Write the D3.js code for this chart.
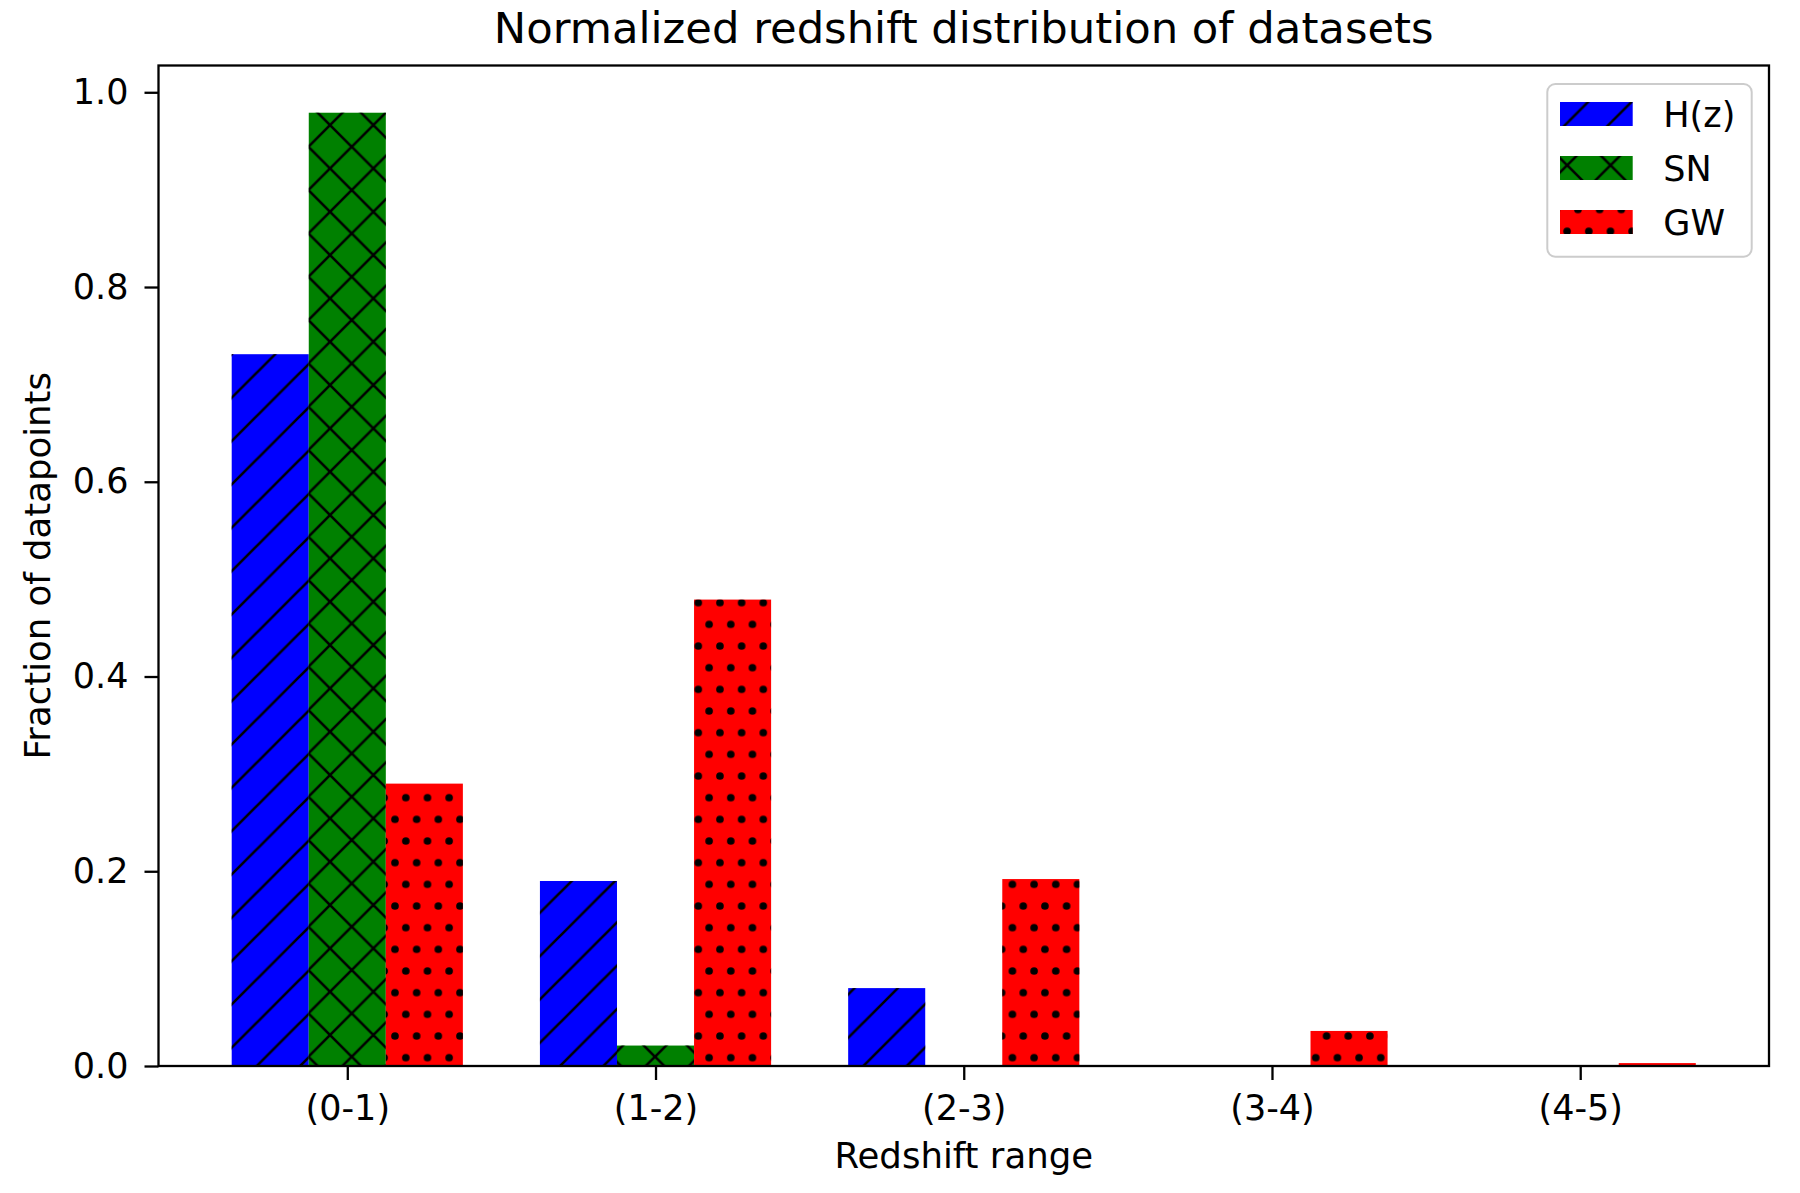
<!DOCTYPE html>
<html>
<head>
<meta charset="utf-8">
<script src="https://cdn.jsdelivr.net/npm/d3@7"></script>
<style>
    body { margin: 0; background: #fff; }
    text { font-family: "DejaVu Sans", sans-serif; fill: #000; }
</style>
</head>
<body>
<div id="chart"></div>
<script>
// data
var categories = ["(0-1)", "(1-2)", "(2-3)", "(3-4)", "(4-5)"];
var seriesNames = ["H(z)", "SN", "GW"];
var hzValues = [0.731, 0.190, 0.080, 0, 0];
var snValues = [0.979, 0.021, 0, 0, 0];
var gwValues = [0.290, 0.479, 0.192, 0.036, 0.003];
var yTicks = [0.0, 0.2, 0.4, 0.6, 0.8, 1.0];

var series = [
    {name: seriesNames[0], values: hzValues, color: "#0000ff", hatch: "hatch-ne", offset: -1},
    {name: seriesNames[1], values: snValues, color: "#008000", hatch: "hatch-x", offset: 0},
    {name: seriesNames[2], values: gwValues, color: "#ff0000", hatch: "hatch-dot", offset: 1}
];

var cwidth = 1800, cheight = 1193;
var margin = {top: 65.5, right: 31, bottom: 127, left: 158.5}
    , width = cwidth - margin.left - margin.right
    , height = cheight - margin.top - margin.bottom;
var barWidth = 0.25;
var P = 43.33; // hatch period
var hatchWidth = 2.6;

var xScale = d3.scaleLinear()
    .domain([-0.6125, categories.length - 1 + 0.6125])
    .range([0, width]);

var yScale = d3.scaleLinear()
    .domain([0, 1.0275])
    .range([height, 0]);

var svg = d3.select("#chart").append("svg")
    .attr("width", cwidth)
    .attr("height", cheight)
    .append("g")
    .attr("transform", "translate(" + margin.left + "," + margin.top + ")");

// hatch patterns, anchored like matplotlib (fixed to the page, not to the bar)
var defs = svg.append("defs");

var ne = defs.append("pattern").attr("id", "hatch-ne")
    .attr("patternUnits", "userSpaceOnUse")
    .attr("x", 98.2).attr("y", 1000.5)
    .attr("width", P).attr("height", P);
ne.append("path")
    .attr("d", "M-5,5L5,-5M0," + P + "L" + P + ",0M" + (P - 5) + "," + (P + 5) + "L" + (P + 5) + "," + (P - 5))
    .attr("stroke", "#000").attr("stroke-width", hatchWidth);

var cross = defs.append("pattern").attr("id", "hatch-x")
    .attr("patternUnits", "userSpaceOnUse")
    .attr("x", 193.2).attr("y", 991.2)
    .attr("width", P).attr("height", P);
cross.append("path")
    .attr("d", "M-5,5L5,-5M0," + P + "L" + P + ",0M" + (P - 5) + "," + (P + 5) + "L" + (P + 5) + "," + (P - 5) +
        "M0,0L" + P + "," + P + "M" + (P - 5) + ",-5L" + (P + 5) + ",5M-5," + (P - 5) + "L5," + (P + 5))
    .attr("stroke", "#000").attr("stroke-width", hatchWidth);

var dots = defs.append("pattern").attr("id", "hatch-dot")
    .attr("patternUnits", "userSpaceOnUse")
    .attr("x", 539.8).attr("y", 537.2)
    .attr("width", P / 2).attr("height", P);
[[0, 0], [P / 2, 0], [0, P], [P / 2, P], [P / 4, P / 2]].forEach(function(c) {
    dots.append("circle").attr("cx", c[0]).attr("cy", c[1]).attr("r", 3.8).attr("fill", "#000");
});

// bars: colour first, hatch on top
series.forEach(function(s) {
    var g = svg.append("g").attr("class", "series");
    var bars = s.values.map(function(v, i) { return {x: i + s.offset * barWidth, y: v}; });
    [s.color, "url(#" + s.hatch + ")"].forEach(function(fill) {
        g.selectAll(null).data(bars).enter().append("rect")
            .attr("x", function(d) { return xScale(d.x - barWidth / 2); })
            .attr("width", function(d) { return xScale(d.x + barWidth / 2) - xScale(d.x - barWidth / 2); })
            .attr("y", function(d) { return yScale(d.y); })
            .attr("height", function(d) { return yScale(0) - yScale(d.y); })
            .attr("fill", fill);
    });
});

// axes
var xAxis = svg.append("g")
    .attr("class", "x axis")
    .attr("transform", "translate(0," + height + ")")
    .call(d3.axisBottom(xScale)
        .tickValues(d3.range(categories.length))
        .tickFormat(function(d) { return categories[d]; })
        .tickSize(14).tickSizeOuter(0).tickPadding(15));

var yAxis = svg.append("g")
    .attr("class", "y axis")
    .call(d3.axisLeft(yScale)
        .tickValues(yTicks)
        .tickFormat(d3.format(".1f"))
        .tickSize(14).tickSizeOuter(0).tickPadding(16));

svg.selectAll(".axis .domain").remove();
svg.selectAll(".axis line").attr("stroke", "#000").attr("stroke-width", 2.3);
svg.selectAll(".axis text")
    .attr("font-family", "DejaVu Sans")
    .attr("font-size", 35)
    .attr("fill", "#000");

// frame
svg.append("rect")
    .attr("width", width).attr("height", height)
    .attr("fill", "none").attr("stroke", "#000").attr("stroke-width", 2.3);

// labels
svg.append("text")
    .attr("text-anchor", "middle")
    .attr("x", width / 2)
    .attr("y", 43 - margin.top)
    .attr("font-size", 43.3)
    .text("Normalized redshift distribution of datasets");

svg.append("text")
    .attr("text-anchor", "middle")
    .attr("x", width / 2)
    .attr("y", height + 102)
    .attr("font-size", 35.5)
    .text("Redshift range");

svg.append("text")
    .attr("text-anchor", "middle")
    .attr("transform", "translate(" + (50 - margin.left) + "," + (height / 2) + ") rotate(-90)")
    .attr("font-size", 35.5)
    .text("Fraction of datapoints");

// legend
var legend = svg.append("g").attr("class", "legend")
    .attr("transform", "translate(" + (1547.3 - margin.left) + "," + (84 - margin.top) + ")");
legend.append("rect")
    .attr("width", 204.4).attr("height", 172.7)
    .attr("rx", 8).attr("ry", 8)
    .attr("fill", "#fff").attr("fill-opacity", 0.8)
    .attr("stroke", "#cccccc").attr("stroke-width", 2);

series.forEach(function(s, i) {
    var cy = 30 + i * 54;
    [s.color, "url(#" + s.hatch + ")"].forEach(function(fill) {
        legend.append("rect")
            .attr("x", 12.7).attr("y", cy - 12)
            .attr("width", 72.7).attr("height", 24)
            .attr("fill", fill);
    });
    legend.append("text")
        .attr("x", 116)
        .attr("y", cy + 12.6)
        .attr("font-size", 35)
        .text(s.name);
});
</script>
</body>
</html>
